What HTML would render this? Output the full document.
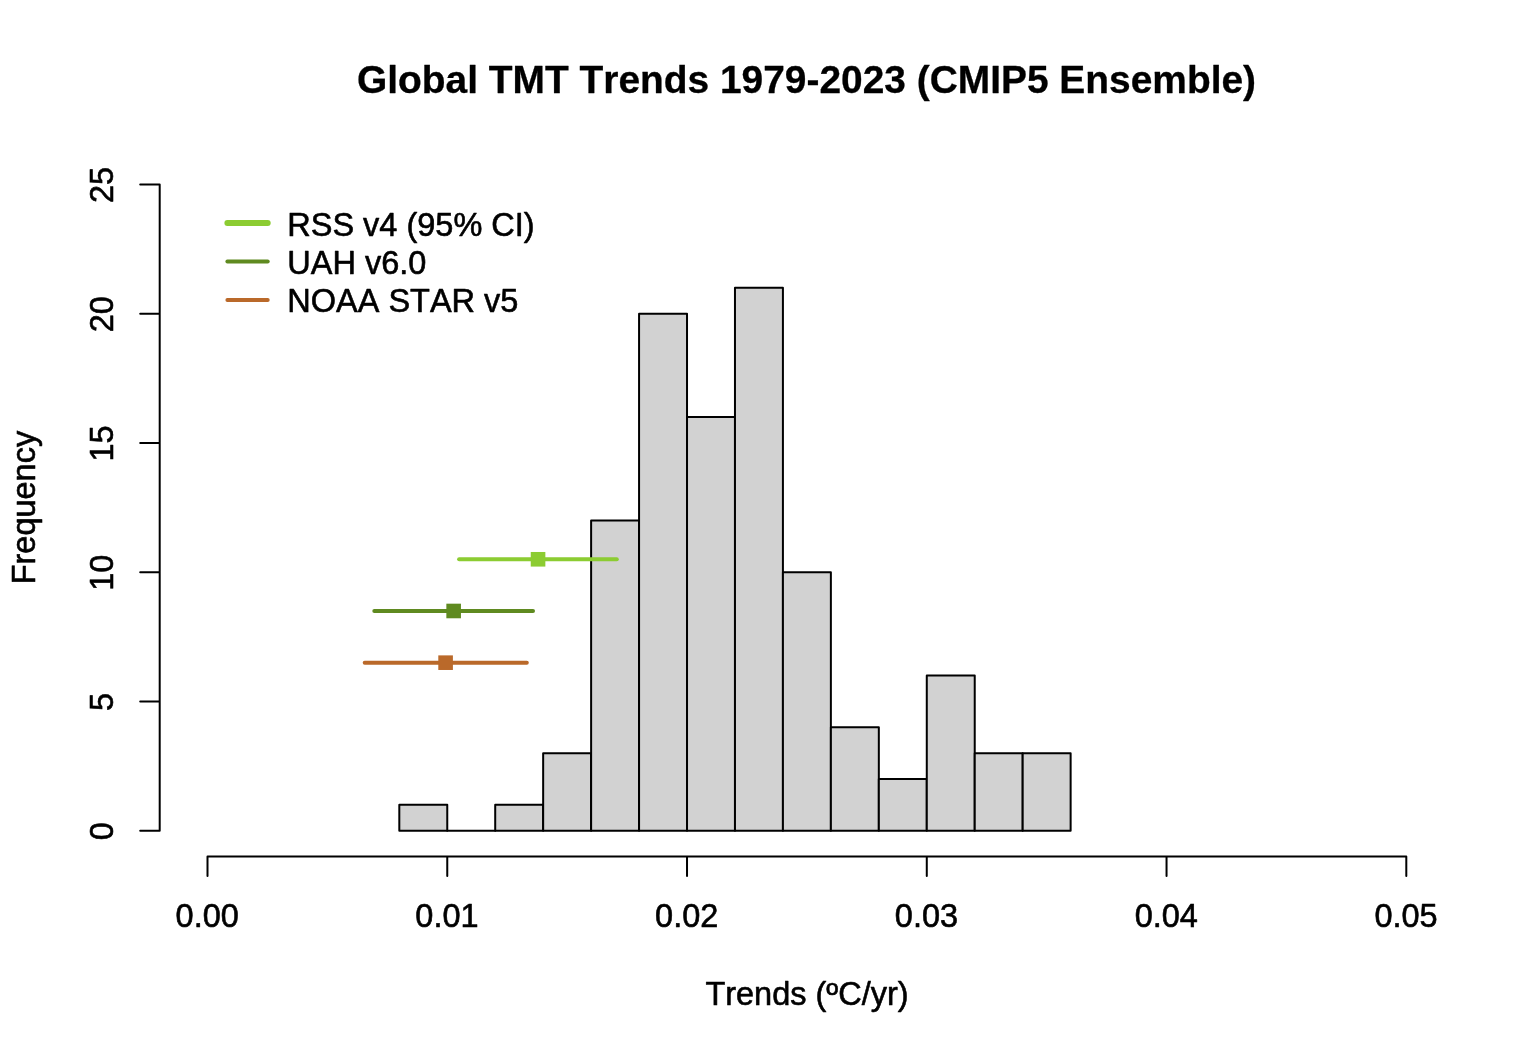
<!DOCTYPE html>
<html lang="en">
<head>
<meta charset="utf-8">
<title>Global TMT Trends 1979-2023 (CMIP5 Ensemble)</title>
<style>
html,body{margin:0;padding:0;background:#fff;}
body{width:1536px;height:1055px;overflow:hidden;}
svg{display:block;}
text{font-family:"Liberation Sans",Arial,Helvetica,sans-serif;fill:#000;font-kerning:none;stroke:#000;stroke-width:0.6px;stroke-linejoin:round;}
.t{font-size:32.5px;}
.title{font-size:38.9px;font-weight:bold;stroke-width:0.3px;}
.ax{fill:none;stroke:#000;stroke-width:2;stroke-linecap:round;stroke-linejoin:round;}
.bar{fill:#d2d2d2;stroke:#000;stroke-width:2;stroke-linejoin:round;stroke-linecap:round;}
</style>
</head>
<body>
<svg width="1536" height="1055" viewBox="0 0 1536 1055">
<rect x="0" y="0" width="1536" height="1055" fill="#fff"/>
<rect class="bar" x="399.31" y="804.85" width="47.95" height="25.85"/>
<path class="ax" d="M447.26 830.70H495.21"/>
<rect class="bar" x="495.21" y="804.85" width="47.95" height="25.85"/>
<rect class="bar" x="543.16" y="753.15" width="47.95" height="77.55"/>
<rect class="bar" x="591.12" y="520.50" width="47.95" height="310.20"/>
<rect class="bar" x="639.07" y="313.70" width="47.95" height="517.00"/>
<rect class="bar" x="687.02" y="417.10" width="47.95" height="413.60"/>
<rect class="bar" x="734.97" y="287.85" width="47.95" height="542.85"/>
<rect class="bar" x="782.92" y="572.20" width="47.95" height="258.50"/>
<rect class="bar" x="830.88" y="727.30" width="47.95" height="103.40"/>
<rect class="bar" x="878.83" y="779.00" width="47.95" height="51.70"/>
<rect class="bar" x="926.78" y="675.60" width="47.95" height="155.10"/>
<rect class="bar" x="974.73" y="753.15" width="47.95" height="77.55"/>
<rect class="bar" x="1022.68" y="753.15" width="47.95" height="77.55"/>
<text class="title" transform="translate(806.50 93.10) scale(1 1.02)" text-anchor="middle">Global TMT Trends 1979-2023 (CMIP5 Ensemble)</text>
<path class="ax" d="M207.50 856.60H1406.30M207.50 856.60V876.00M447.26 856.60V876.00M687.02 856.60V876.00M926.78 856.60V876.00M1166.54 856.60V876.00M1406.30 856.60V876.00"/>
<text class="t" transform="translate(207.20 927.10) scale(1 1.04)" text-anchor="middle">0.00</text>
<text class="t" transform="translate(446.96 927.10) scale(1 1.04)" text-anchor="middle">0.01</text>
<text class="t" transform="translate(686.72 927.10) scale(1 1.04)" text-anchor="middle">0.02</text>
<text class="t" transform="translate(926.48 927.10) scale(1 1.04)" text-anchor="middle">0.03</text>
<text class="t" transform="translate(1166.24 927.10) scale(1 1.04)" text-anchor="middle">0.04</text>
<text class="t" transform="translate(1406.00 927.10) scale(1 1.04)" text-anchor="middle">0.05</text>
<path class="ax" d="M159.70 830.70V184.45M159.70 830.70H140.20M159.70 701.45H140.20M159.70 572.20H140.20M159.70 442.95H140.20M159.70 313.70H140.20M159.70 184.45H140.20"/>
<text class="t" transform="translate(113.30 831.30) rotate(-90) scale(1 1.04)" text-anchor="middle">0</text>
<text class="t" transform="translate(113.30 702.05) rotate(-90) scale(1 1.04)" text-anchor="middle">5</text>
<text class="t" transform="translate(113.30 572.80) rotate(-90) scale(1 1.04)" text-anchor="middle">10</text>
<text class="t" transform="translate(113.30 443.55) rotate(-90) scale(1 1.04)" text-anchor="middle">15</text>
<text class="t" transform="translate(113.30 314.30) rotate(-90) scale(1 1.04)" text-anchor="middle">20</text>
<text class="t" transform="translate(113.30 185.05) rotate(-90) scale(1 1.04)" text-anchor="middle">25</text>
<text class="t" transform="translate(807.00 1004.80) scale(1 1.01)" text-anchor="middle">Trends (ºC/yr)</text>
<text class="t" transform="translate(35.30 507.58) rotate(-90)" text-anchor="middle">Frequency</text>
<line x1="459.10" y1="559.28" x2="616.80" y2="559.28" stroke="#8ccc32" stroke-width="4" stroke-linecap="round"/>
<rect x="530.75" y="551.98" width="14.6" height="14.6" fill="#8ccc32"/>
<line x1="374.30" y1="610.98" x2="533.00" y2="610.98" stroke="#5f8a20" stroke-width="4" stroke-linecap="round"/>
<rect x="446.35" y="603.68" width="14.6" height="14.6" fill="#5f8a20"/>
<line x1="364.70" y1="662.68" x2="526.80" y2="662.68" stroke="#ba692a" stroke-width="4" stroke-linecap="round"/>
<rect x="438.30" y="655.38" width="14.6" height="14.6" fill="#ba692a"/>
<line x1="227.40" y1="223.10" x2="267.70" y2="223.10" stroke="#8ccc32" stroke-width="6" stroke-linecap="round"/>
<text class="t" transform="translate(287.30 235.70) scale(1 1.04)">RSS v4 (95% CI)</text>
<line x1="227.40" y1="261.50" x2="267.70" y2="261.50" stroke="#5f8a20" stroke-width="4" stroke-linecap="round"/>
<text class="t" transform="translate(287.30 274.10) scale(1 1.04)">UAH v6.0</text>
<line x1="227.40" y1="299.90" x2="267.70" y2="299.90" stroke="#ba692a" stroke-width="4" stroke-linecap="round"/>
<text class="t" transform="translate(287.30 312.20) scale(1 1.04)">NOAA STAR v5</text>
</svg>
</body>
</html>
